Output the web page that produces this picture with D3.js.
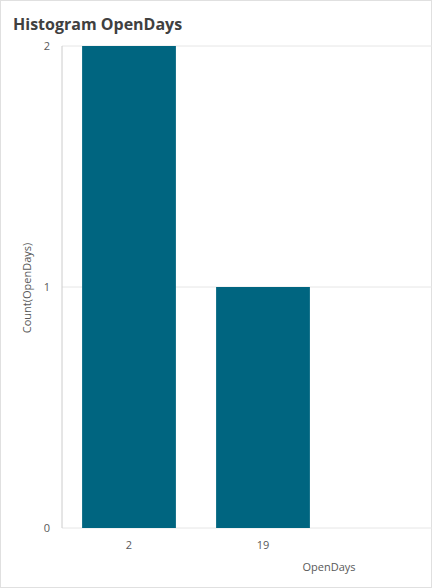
<!DOCTYPE html>
<html><head><meta charset="utf-8">
<script src="https://cdn.jsdelivr.net/npm/d3@7"></script>
<style>body{margin:0;background:#fff;font-family:"Source Sans Pro","Open Sans",sans-serif;}</style>
</head><body><div id="chart"></div>
<script>
// bins and counts
var bins = ["2", "19", ""];
var counts = [2, 1, 0];
var yTicks = [0, 1, 2];

var svg = d3.select("#chart").append("svg").attr("width", 432).attr("height", 588);

// card border
svg.append("rect").attr("x", 0.5).attr("y", 0.5).attr("width", 431).attr("height", 587)
  .attr("fill", "#fff").attr("stroke", "#e0e0e0");

svg.append("text").attr("x", 13).attr("y", 30).text("Histogram OpenDays")
  .attr("font-size", 16).attr("font-weight", "bold").attr("fill", "#404040");

var x = d3.scaleBand().domain(bins).range([62, 464]).paddingInner(0.3).paddingOuter(0.15);
var y = d3.scaleLinear().domain([0, 2]).range([528, 46]);

// gridlines
svg.append("g").selectAll("line").data(yTicks).join("line")
  .attr("x1", 62).attr("x2", 432).attr("y1", d => y(d)).attr("y2", d => y(d))
  .attr("stroke", "#e6e6e6");

svg.append("line").attr("x1", 62).attr("x2", 62).attr("y1", 46).attr("y2", 528).attr("stroke", "#ccc");

// y tick labels
svg.append("g").selectAll("text").data(yTicks).join("text")
  .attr("x", 50).attr("y", d => y(d) + 4).attr("text-anchor", "end")
  .attr("font-size", 11).attr("fill", "#595959").text(d => d);

// bars
svg.append("g").selectAll("rect").data(counts).join("rect")
  .attr("x", (d, i) => x(bins[i])).attr("width", x.bandwidth())
  .attr("y", d => y(d)).attr("height", d => y(0) - y(d))
  .attr("fill", "#006580");

// x tick labels
svg.append("g").selectAll("text").data(bins).join("text")
  .attr("x", d => x(d) + x.bandwidth() / 2).attr("y", 549).attr("text-anchor", "middle")
  .attr("font-size", 11).attr("fill", "#595959").text(d => d);

svg.append("text").attr("x", 329).attr("y", 571).attr("text-anchor", "middle")
  .attr("font-size", 11).attr("fill", "#595959").text("OpenDays");

svg.append("text").attr("transform", "translate(31,288) rotate(-90)").attr("text-anchor", "middle")
  .attr("font-size", 11).attr("fill", "#595959").text("Count(OpenDays)");
</script></body></html>
